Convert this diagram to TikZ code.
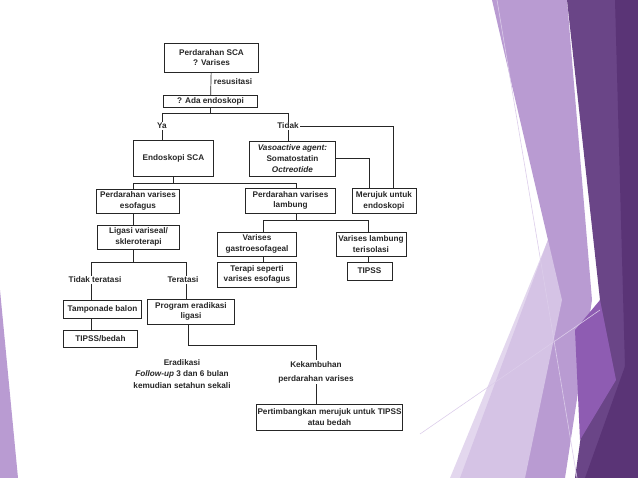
\documentclass[tikz,border=0pt]{standalone}
\usepackage{fontspec}
\setmainfont{Liberation Sans}
\usetikzlibrary{backgrounds}
\definecolor{lilac}{HTML}{B99BD2}
\definecolor{pale}{HTML}{DCCDEA}
\definecolor{plum}{HTML}{6A4587}
\definecolor{deepplum}{HTML}{5A3476}
\definecolor{violet}{HTML}{8E5CB2}
\definecolor{ink}{HTML}{262626}
\begin{document}
\begin{tikzpicture}[x=0.03cm,y=-0.03cm,
  box/.style={draw=ink,line width=0.6pt,inner sep=1pt,align=center,text=ink,
    font=\fontsize{7}{9.2}\selectfont\bfseries},
  sz/.style 2 args={minimum width=#1*0.85pt,minimum height=#2*0.85pt},
  label/.style={inner sep=1pt,align=center,text=ink,font=\fontsize{7}{10}\selectfont\bfseries},
  link/.style={draw=ink,line width=0.6pt}]
  \useasboundingbox (0,0) rectangle (638,478);

%% Latar
  \fill[lilac] (492,0) -- (567,0) -- (592,300) -- (565,478) -- (460,478) -- (548,240) -- cycle;
  \fill[pale,opacity=0.8] (548,240) -- (562,300) -- (525,478) -- (450,478) -- cycle;
  \fill[plum] (567,0) -- (638,0) -- (638,478) -- (575,478) -- (600,300) -- cycle;
  \fill[violet] (600,300) -- (616,380) -- (580,440) -- (575,330) -- cycle;
  \fill[deepplum] (615,0) -- (638,0) -- (638,478) -- (628,478) -- cycle;
  \fill[deepplum] (585,478) -- (638,330) -- (638,478) -- cycle;
  \fill[lilac] (0,290) -- (18,478) -- (0,478) -- cycle;
  \draw[pale,line width=0.5pt] (497,0) -- (577,478);
  \draw[pale,line width=0.5pt] (420,434) -- (600,310);

%% Kotak
  \node[box,sz={95}{29}] (sca) at (211.5,57.5) {Perdarahan SCA\\? Varises};
  \node[label] (resus) at (233,82) {resusitasi};
  \node[box,sz={95}{12}] (ada) at (210.5,101.5) {? Ada endoskopi};
  \node[label] (ya) at (162,126) {Ya};
  \node[label] (tidak) at (288,126) {Tidak};
  \node[box,sz={81}{36}] (endo) at (173.5,158) {Endoskopi SCA};
  \node[box,sz={87}{35}] (vaso) at (292.5,158.5)
    {\itshape Vasoactive agent:\\Somatostatin\\\itshape Octreotide};
  \node[box,sz={64}{25}] (meru) at (384,200.5) {Merujuk untuk\\endoskopi};
  \node[box,sz={84}{24}] (eso) at (138,201) {Perdarahan varises\\esofagus};
  \node[box,sz={91}{25}] (lamb) at (290.5,200.5) {Perdarahan varises\\lambung};
  \node[box,sz={83}{24}] (liga) at (138.5,237) {Ligasi variseal/\\skleroterapi};
  \node[box,sz={80}{24}] (gastro) at (257,244) {Varises\\gastroesofageal};
  \node[box,sz={80}{25}] (terapi) at (257,274.5) {Terapi seperti\\varises esofagus};
  \node[box,sz={70}{24}] (teris) at (371,244) {Varises lambung\\terisolasi};
  \node[box,sz={45}{18}] (tipss) at (369.5,271) {TIPSS};
  \node[label] (tt) at (95,280) {Tidak teratasi};
  \node[label] (ter) at (183,280) {Teratasi};
  \node[box,sz={79}{18}] (tamp) at (102.5,309) {Tamponade balon};
  \node[box,sz={75}{17}] (tb) at (100.5,338.5) {TIPSS/bedah};
  \node[box,sz={88}{25}] (prog) at (191,311.5) {Program eradikasi\\ligasi};
  \node[label,font=\fontsize{7}{9.5}\selectfont\bfseries] (erad) at (182,374)
    {Eradikasi\\\textit{Follow-up} 3 dan 6 bulan\\kemudian setahun sekali};
  \node[label,font=\fontsize{7}{12}\selectfont\bfseries] (kek) at (316,372) {Kekambuhan\\perdarahan varises};
  \node[box,sz={135}{26}] (pert) at (329.5,417) {Pertimbangkan merujuk untuk TIPSS\\atau bedah};

%% Titik sambungan
  \coordinate (j1) at (210.5,113);
  \coordinate (m1) at (393,188);
  \coordinate (m2) at (369,188);
  \coordinate (j2l) at (133,183);
  \coordinate (j2r) at (296,183);
  \coordinate (j3l) at (91,262);
  \coordinate (j3r) at (186,262);
  \coordinate (j4l) at (263,220);
  \coordinate (j4r) at (368,220);
  \coordinate (j5l) at (188,345);
  \coordinate (j5r) at (316,345);

%% Garis
  \draw[link] (sca) -- (ada);
  \draw[link] (ada) -- (j1);
  \draw[link] (j1 -| ya) -- (j1 -| tidak);
  \draw[link] (j1 -| ya) -- (ya);
  \draw[link] (j1 -| tidak) -- (tidak);
  \draw[link] (ya) -- (ya |- endo.north);
  \draw[link] (tidak) -- (tidak |- vaso.north);
  \draw[link] (tidak.east) -| (m1);
  \draw[link] (vaso.east) -| (m2);
  \draw[link] (endo) -- (endo.south |- j2l);
  \draw[link] (j2l) -- (j2r);
  \draw[link] (j2l) -- (j2l |- eso.north);
  \draw[link] (j2r) -- (j2r |- lamb.north);
  \draw[link] (j2l |- eso.south) -- (j2l |- liga.north);
  \draw[link] (j2l |- liga.south) -- (j2l |- j3l);
  \draw[link] (j3l) -- (j3r);
  \draw[link] (j3l) -- (j3l |- tt.north);
  \draw[link] (j3r) -- (j3r |- ter.north);
  \draw[link] (j3l |- tt.south) -- (j3l |- tamp.north);
  \draw[link] (j3l |- tamp.south) -- (j3l |- tb.north);
  \draw[link] (j3r |- ter.south) -- (j3r |- prog.north);
  \draw[link] (j5l |- prog.south) -- (j5l) -- (j5r) -- (kek.north);
  \draw[link] (kek.south) -- (kek.south |- pert.north);
  \draw[link] (j2r |- lamb.south) -- (j2r |- j4l);
  \draw[link] (j4l) -- (j4r);
  \draw[link] (j4l) -- (j4l |- gastro.north);
  \draw[link] (j4r) -- (j4r |- teris.north);
  \draw[link] (j4l |- gastro.south) -- (j4l |- terapi.north);
  \draw[link] (j4r |- teris.south) -- (j4r |- tipss.north);
\end{tikzpicture}
\end{document}
